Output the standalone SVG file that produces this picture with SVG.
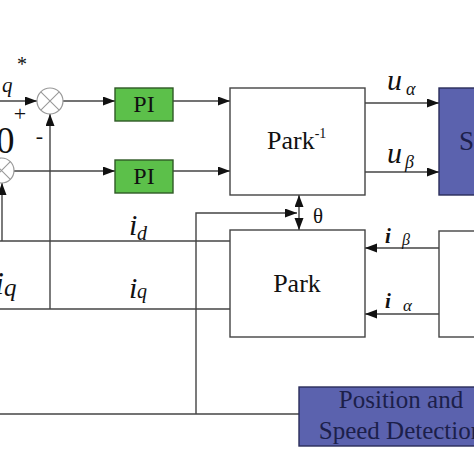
<svg xmlns="http://www.w3.org/2000/svg" width="474" height="474" viewBox="0 0 474 474">
<defs>
<marker id="ah" markerUnits="userSpaceOnUse" markerWidth="13" markerHeight="10" refX="12" refY="4.5" orient="auto-start-reverse">
<path d="M0,0 L12,4.5 L0,9 z" fill="#111"/>
</marker>
<style>
.ln{fill:none;stroke:#444;stroke-width:1.4}
.box{fill:#fff;stroke:#444;stroke-width:1.4}
.pi{fill:#5cc04a;stroke:#2f5a26;stroke-width:1.4}
.blue{fill:#5b62ae;stroke:#2a2d5a;stroke-width:1.4}
.sum{fill:#fff;stroke:#999;stroke-width:1.2}
.t{font-family:"Liberation Serif","Times New Roman",serif;fill:#111}
.it{font-family:"Liberation Serif","Times New Roman",serif;font-style:italic;fill:#111}
.bt{font-family:"Liberation Serif","Times New Roman",serif;fill:#1c1f4a}
</style>
</defs>
<rect width="474" height="474" fill="#fff"/>

<g id="connectors">
<path class="ln" d="M0,101 H37" marker-end="url(#ah)"/>
<path class="ln" d="M63,101 H115" marker-end="url(#ah)"/>
<path class="ln" d="M173,101 H230" marker-end="url(#ah)"/>
<path class="ln" d="M14,171 H115" marker-end="url(#ah)"/>
<path class="ln" d="M173,171 H230" marker-end="url(#ah)"/>
<path class="ln" d="M365,103 H439" marker-end="url(#ah)"/>
<path class="ln" d="M365,172 H439" marker-end="url(#ah)"/>
<path class="ln" d="M439,248 H365" marker-end="url(#ah)"/>
<path class="ln" d="M439,314 H365" marker-end="url(#ah)"/>
<path class="ln" d="M0,241 H230"/>
<path class="ln" d="M2,241 V183" marker-end="url(#ah)"/>
<path class="ln" d="M0,309 H230"/>
<path class="ln" d="M50,309 V114" marker-end="url(#ah)"/>
<path class="ln" d="M0,414 H299"/>
<path class="ln" d="M196,414 V213 H297" marker-end="url(#ah)"/>
<path class="ln" d="M299,195 V230" marker-start="url(#ah)" marker-end="url(#ah)"/>
</g>

<g id="sum1">
<circle class="sum" cx="50" cy="101" r="13"/>
<path d="M40.8,91.8 L59.2,110.2 M59.2,91.8 L40.8,110.2" stroke="#999" stroke-width="1.1"/>
</g>
<g id="sum2">
<circle class="sum" cx="1.5" cy="170.5" r="12.5"/>
<path d="M-7.3,161.7 L10.3,179.3 M10.3,161.7 L-7.3,179.3" stroke="#999" stroke-width="1.1"/>
</g>

<g id="pi1">
<rect class="pi" x="115" y="88" width="58" height="33"/>
<text class="t" x="144" y="112" font-size="24" text-anchor="middle">PI</text>
</g>
<g id="pi2">
<rect class="pi" x="115" y="160" width="58" height="33"/>
<text class="t" x="144" y="184" font-size="24" text-anchor="middle">PI</text>
</g>

<g id="parkinv">
<rect class="box" x="230" y="88" width="135" height="107"/>
<text class="t" x="267" y="149" font-size="26">Park<tspan font-size="14" dy="-11">-1</tspan></text>
</g>

<g id="park">
<rect class="box" x="230" y="230" width="135" height="107"/>
<text class="t" x="297" y="292" font-size="26" text-anchor="middle">Park</text>
</g>

<g id="svpwm">
<rect class="blue" x="439" y="88" width="50" height="107"/>
<text class="bt" x="459" y="150" font-size="27">S</text>
</g>

<g id="inverter">
<rect class="box" x="439" y="231" width="50" height="106"/>
</g>

<g id="posdet">
<rect class="blue" x="299" y="387" width="200" height="59"/>
<text class="bt" x="401" y="408" font-size="25" text-anchor="middle">Position and</text>
<text class="bt" x="401" y="439" font-size="25" text-anchor="middle">Speed Detection</text>
</g>

<g id="labels">
<text class="it" x="-9" y="92" font-size="26">i</text>
<text class="it" x="2" y="92" font-size="21">q</text>
<text class="t" x="17" y="71" font-size="20">*</text>
<text class="t" x="20" y="121" font-size="22" text-anchor="middle">+</text>
<text class="t" x="39.5" y="143" font-size="22" text-anchor="middle">-</text>
<text class="t" x="-4" y="153" font-size="37">0</text>
<text class="it" x="-5" y="294" font-size="32">i</text>
<text class="it" x="4" y="296" font-size="25">q</text>
<text class="it" x="129" y="235" font-size="30">i</text>
<text class="it" x="137" y="240" font-size="20">d</text>
<text class="it" x="129" y="298" font-size="30">i</text>
<text class="it" x="137" y="298" font-size="20">q</text>
<text class="it" x="387" y="90" font-size="30">u</text>
<text class="it" x="406" y="95" font-size="18">α</text>
<text class="it" x="387" y="163" font-size="30">u</text>
<text class="it" x="405" y="168" font-size="18">β</text>
<text class="it" x="385" y="243" font-size="21" font-weight="bold">i</text>
<text class="it" x="402" y="245" font-size="16">β</text>
<text class="it" x="385" y="308" font-size="21" font-weight="bold">i</text>
<text class="it" x="403" y="311" font-size="17">α</text>
<text class="t" x="313" y="223" font-size="21">θ</text>
</g>
</svg>
